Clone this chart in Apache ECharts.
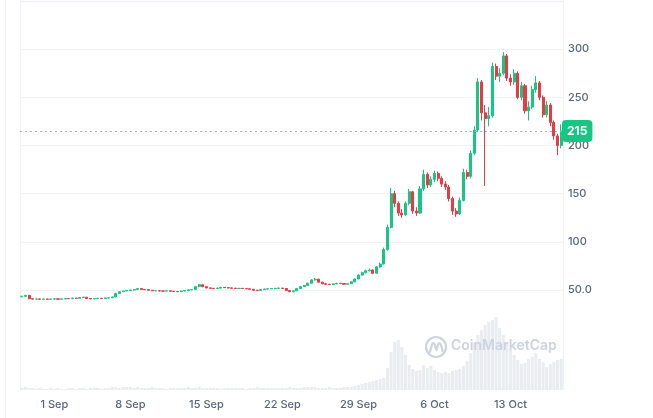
<!DOCTYPE html>
<html><head><meta charset="utf-8">
<script src="https://cdn.jsdelivr.net/npm/echarts@6/dist/echarts.min.js"></script>
<style>html,body{margin:0;padding:0;background:#fff}#c{width:653px;height:418px}</style>
</head><body><div id="c"></div>
<script>
// candle rows: [open, close, low, high], one per 8 hours starting 29 Aug 00:00
const candles = [
[43,43.5,42.6,44.2],[43.5,44.5,43.2,45],[44.5,41,40.6,44.8],[41,40.6,40.2,41.3],[40.6,40.8,40.3,41.2],
[40.8,40.5,40.1,41],[40.5,40.7,40.2,41.1],[40.7,40.4,40,41],[40.4,40.6,40.1,40.9],[40.6,40.9,40.3,41.3],
[40.9,40.5,40.2,41.1],[40.5,40.8,40.3,41.2],[40.8,41.2,40.6,41.6],[41.2,41,40.7,41.5],[41,41.6,40.8,42],
[41.6,41.4,41,41.9],[41.4,42.3,41.2,42.7],[42.3,42.6,42,43],[42.6,41.2,40.9,42.8],[41.2,40.8,40.5,41.5],
[40.8,41.3,40.6,41.6],[41.3,41.5,41,41.9],[41.5,41.2,40.9,41.8],[41.2,41.8,41,42.2],[41.8,42,41.5,42.4],
[42,42.8,41.8,43.3],[42.8,46.5,42.6,47],[46.5,48.3,46.2,48.8],[48.3,49,48,49.5],[49,49.6,48.7,50.1],
[49.6,50,49.3,50.6],[50,50.5,49.7,51],[50.5,51.5,50.2,52.2],[51.5,50.6,50.3,51.8],[50.6,50.4,50,51],
[50.4,49.8,49.4,50.7],[49.8,49.2,48.9,50.1],[49.2,49.3,48.8,49.7],[49.3,49,48.7,49.6],[49,48.9,48.5,49.4],
[48.9,49.2,48.6,49.6],[49.2,48.8,48.4,49.5],[48.8,48.5,48.1,49.1],[48.5,48.3,47.9,48.9],[48.3,49,48,49.4],
[49,49.6,48.7,50],[49.6,50.2,49.3,50.6],[50.2,50.5,49.9,51],[50.5,53.5,50.3,54.2],[53.5,55.5,53.2,56.3],
[55.5,53.5,53,55.9],[53.5,52.2,51.8,53.8],[52.2,51.8,51.4,52.6],[51.8,51.5,51.1,52.2],[51.5,52,51.2,52.5],
[52,52.8,51.7,53.3],[52.8,52.5,52.1,53.1],[52.5,52.2,51.8,52.9],[52.2,51.9,51.5,52.6],[51.9,51.6,51.2,52.3],
[51.6,51.8,51.3,52.2],[51.8,51.5,51.1,52.1],[51.5,51.3,50.9,51.9],[51.3,50.8,50.4,51.6],[50.8,49.8,49.4,51.1],
[49.8,49.6,49.2,50.2],[49.6,50.4,49.3,50.8],[50.4,51,50.1,51.4],[51,51.3,50.7,51.7],[51.3,51.5,51,51.9],
[51.5,51.8,51.2,52.2],[51.8,52,51.5,52.5],[52,51.6,51.2,52.3],[51.6,49.6,49.2,51.9],[49.6,48.2,47.8,49.9],
[48.2,49.2,47.9,49.6],[49.2,51.5,49,51.9],[51.5,53.5,51.2,54],[53.5,54.8,53.2,55.4],[54.8,57,54.5,57.6],
[57,60.5,56.8,61.2],[60.5,61.3,59.8,62.5],[61.3,58.2,57.8,61.6],[58.2,56.5,56,58.6],[56.5,56,55.5,57],
[56,55.7,55.2,56.4],[55.7,56.4,55.4,56.9],[56.4,57,56,57.5],[57,56.8,56.3,57.4],[56.8,56,55.6,57.2],
[56,56.5,55.7,57],[56.5,58.5,56.2,59.2],[58.5,61.5,58.2,62.3],[61.5,65.5,61.2,66.4],[65.5,68,65,69],
[68,70,67.4,71],[70,70.8,69.2,72.5],[70.8,67.5,66.5,71.5],[67.5,74,67,75],[74,77,73.2,78.5],
[77,92,76.5,94],[92,115,91,118],[115,150,114,156],[150,140,136,153],[140,130,127,142],
[130,128,125,134],[128,140,127,142],[140,152,138,155],[152,132,129,153],[132,130,127,136],
[130,155,129,158],[155,170,153,175],[170,159,156,172],[159,165,157,168],[165,171,162,174],
[171,166,163,173],[166,160,157,168],[160,157,154,163],[157,145,142,159],[145,132,128,147],
[132,129,126,135],[129,143,128,146],[143,172,142,176],[172,168,165,175],[168,192,166,195],
[192,216,190,220],[216,266,214,270],[266,234,226,268],[234,228,158,242],[228,231,220,240],
[231,282,229,286],[282,272,268,285],[272,275,266,280],[275,293,273,297],[293,270,267,295],
[270,266,262,274],[266,275,263,279],[275,250,248,277],[250,262,247,266],[262,236,233,264],
[236,240,226,246],[240,258,238,262],[258,265,255,272],[265,250,247,267],[250,232,229,252],
[232,242,229,246],[242,224,220,244],[224,210,206,226],[210,200,190,212],[200,215,197,222]
];
const volumes = [
2,3,2,2,1,2,1,1,2,1, 2,1,1,2,2,1,2,2,1,2, 2,2,1,2,2,3,3,2,3,3, 3,2,3,2,2,2,3,2,2,2,
1,2,2,2,2,2,3,2,2,3, 2,2,2,2,2,1,2,2,2,2, 2,2,1,2,2,3,2,2,2,2, 2,2,2,2,3,2,2,2,3,3,
3,3,2,2,2,3,2,2,2,3, 3,3,4,5,6,7,8,9,10,11, 12,22,38,48,50,43,35,25,21,19,
20,25,22,24,20,18,17,18,17,19, 20,21,24,29,37,47,55,60,65,68, 70,73,62,55,47,40,35,30,26,27,
31,33,37,31,28,23,26,28,30,31
];
const tickIndex = [9, 30, 51, 72, 93, 114, 135];
const tickLabels = ['1 Sep', '8 Sep', '15 Sep', '22 Sep', '29 Sep', '6 Oct', '13 Oct'];
const currentPrice = 215;

const start = Date.UTC(2024, 7, 29);
const categories = candles.map((_, i) => new Date(start + i * 8 * 3600 * 1000).toISOString().slice(0, 13));

const UP = '#16c784', DOWN = '#ea3943';
const FONT = 'Inter';
const chart = echarts.init(document.getElementById('c'), null, {renderer: 'canvas'});
chart.setOption({
  animation: false,
  backgroundColor: '#fff',
  grid: [
    {left: 20, right: 90, top: 1, bottom: 31.6},
    {left: 20, right: 90, top: 310, bottom: 28}
  ],
  xAxis: [
    {type: 'category', gridIndex: 0, data: categories, boundaryGap: true,
     axisLine: {show: false}, axisTick: {show: false}, axisLabel: {show: false}, splitLine: {show: false}},
    {type: 'category', gridIndex: 1, data: categories, boundaryGap: true,
     axisLine: {show: false}, axisTick: {show: false}, splitLine: {show: false},
     axisLabel: {
       interval: (idx) => tickIndex.includes(idx),
       formatter: (v, idx) => { const k = tickIndex.indexOf(idx); return k >= 0 ? tickLabels[k] : ''; },
       color: '#58667e', fontFamily: FONT, fontSize: 11, fontWeight: 500, margin: 9
     }}
  ],
  yAxis: [
    {type: 'value', gridIndex: 0, position: 'right', min: -50, max: 350, interval: 50,
     axisLine: {show: false}, axisTick: {show: false},
     axisLabel: {
       formatter: (v) => (v <= 0 || v >= 350) ? '' : (v === 50 ? '50.0' : String(v)),
       color: '#58667e', fontFamily: FONT, fontSize: 11, fontWeight: 500, margin: 5
     },
     splitLine: {show: true, lineStyle: {color: ['transparent', 'transparent', '#f0f2f5', '#f0f2f5', '#f0f2f5', '#f0f2f5', '#f0f2f5', '#f0f2f5', '#eceff3'], width: 1}}},
    {type: 'value', gridIndex: 1, min: 0, max: 80, show: false, splitLine: {show: false}}
  ],
  series: [
    {type: 'bar', xAxisIndex: 1, yAxisIndex: 1, data: volumes, barCategoryGap: '15%',
     itemStyle: {color: '#e9ecf1'}, silent: true, z: 1},
    {type: 'candlestick', xAxisIndex: 0, yAxisIndex: 0, data: candles, barWidth: '70%',
     itemStyle: {color: UP, color0: DOWN, borderColor: UP, borderColor0: DOWN, borderWidth: 1},
     z: 3,
     markLine: {
       silent: true, symbol: ['none', 'none'], animation: false,
       lineStyle: {color: '#a6adbd', type: [2, 3], width: 1},
       label: {position: 'end', formatter: String(currentPrice), backgroundColor: UP, color: '#fff',
               fontFamily: FONT, fontWeight: 700, fontSize: 12, padding: [5, 5, 5, 5], borderRadius: 4, distance: -1},
       data: [{yAxis: currentPrice}]
     }}
  ],
  graphic: [
    {type: 'line', shape: {x1: 5.5, y1: 0, x2: 5.5, y2: 418}, style: {stroke: '#eff1f4', lineWidth: 1}, silent: true},
    {type: 'line', shape: {x1: 20.5, y1: 0, x2: 20.5, y2: 390}, style: {stroke: '#eff1f4', lineWidth: 1}, silent: true},
    {type: 'line', shape: {x1: 563.5, y1: 0, x2: 563.5, y2: 390}, style: {stroke: '#eff1f4', lineWidth: 1}, silent: true},
    {type: 'circle', shape: {cx: 436, cy: 347, r: 10}, style: {fill: 'none', stroke: '#cdd3df', lineWidth: 2.2}, z: 10, silent: true},
    {type: 'polyline', shape: {points: [[430, 352], [432.5, 343.5], [434.5, 344], [436.5, 350], [438.5, 343.5], [440.5, 344], [442.5, 351]], smooth: 0.3},
     style: {fill: 'none', stroke: '#cdd3df', lineWidth: 2.2, lineCap: 'round', lineJoin: 'round'}, z: 10, silent: true},
    {type: 'text', left: 451, top: 339, style: {text: 'CoinMarketCap', fill: '#cdd3df', font: '600 14px Inter'}, z: 10, silent: true}
  ]
});
</script></body></html>
